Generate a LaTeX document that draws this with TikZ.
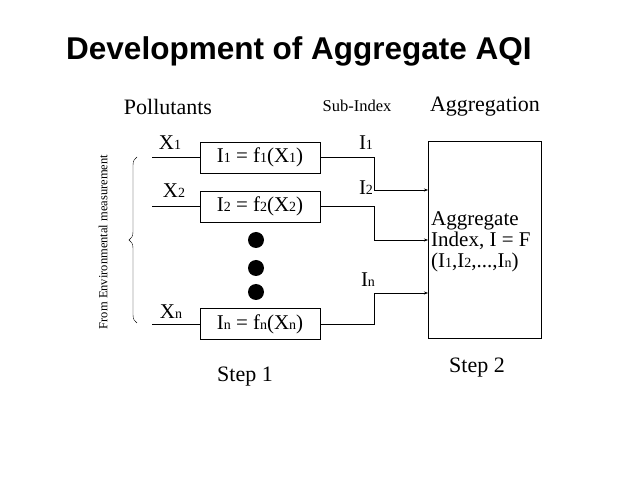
\documentclass[tikz,border=0pt]{standalone}
\usepackage{fontspec}
\setmainfont{Liberation Serif}
\newfontfamily\titlefont{Liberation Sans}
\usetikzlibrary{decorations.pathreplacing,arrows.meta}
\newcommand{\sbx}[1]{{\fontsize{14}{14}\selectfont #1}}
\begin{document}
\begin{tikzpicture}[x=1pt,y=-1pt,
  fbox/.style={draw,minimum width=120pt,minimum height=31pt,inner sep=1pt,font=\fontsize{21}{21}\selectfont},
  lbl/.style={font=\fontsize{21}{21}\selectfont},
  conn/.style={draw,line width=0.5pt},
  arr/.style={conn,-{Stealth[length=4pt,width=3pt]}}]
\useasboundingbox (0,0) rectangle (638,478);
\node[font=\titlefont\bfseries\fontsize{31.5}{31.5}\selectfont] (title) at (299,51) {Development of Aggregate AQI};
\node[font=\fontsize{22}{22}\selectfont] (pol) at (168,107) {Pollutants};
\node[font=\fontsize{16.5}{16.5}\selectfont] (sub) at (357,106) {Sub-Index};
\node[font=\fontsize{22}{22}\selectfont] (agg) at (485,107) {Aggregation};
\node[fbox] (b1) at (260,157.5) {I\sbx{1} = f\sbx{1}(X\sbx{1})};
\node[fbox] (b2) at (260,206.5) {I\sbx{2} = f\sbx{2}(X\sbx{2})};
\node[fbox] (bn) at (260,324) {I\sbx{n} = f\sbx{n}(X\sbx{n})};
\node[draw,minimum width=113pt,minimum height=197pt] (big) at (484.5,239.5) {};
\node[lbl,align=left,anchor=west,inner sep=0pt] (aggt) at (431,242) {Aggregate\\Index, I = F\\(I\sbx{1},I\sbx{2},...,I\sbx{n})};
\coordinate (s1) at (152,157.5);
\coordinate (s2) at (152,206.5);
\coordinate (sn) at (152,324);
\draw[conn] (s1) -- (b1.west);
\draw[conn] (s2) -- (b2.west);
\draw[conn] (sn) -- (bn.west);
\node[lbl] (x1) at (170,143) {X\sbx{1}};
\node[lbl] (x2) at (174,191) {X\sbx{2}};
\node[lbl] (xn) at (171,312) {X\sbx{n}};
\coordinate (t1) at (428,190);
\coordinate (t2) at (428,240);
\coordinate (tn) at (428,293);
\draw[arr] (b1.east) -| (374,190) -- (t1);
\draw[arr] (b2.east) -| (374,240) -- (t2);
\draw[arr] (bn.east) -| (374,293) -- (tn);
\node[lbl] (i1) at (366,143) {I\sbx{1}};
\node[lbl] (i2) at (366,188) {I\sbx{2}};
\node[lbl] (in) at (368,280) {I\sbx{n}};
\foreach \y/\n in {240/d1,268/d2,292/d3} \node[circle,fill=black,inner sep=0pt,minimum size=16pt] (\n) at (256,\y) {};
\coordinate (br1) at (137,157);
\coordinate (br2) at (137,323);
\draw[decorate,decoration={brace,amplitude=8pt}] (br2) -- (br1);
\node[rotate=90,font=\fontsize{12.5}{12.5}\selectfont] (from) at (103,242) {From Environmental measurement};
\node[font=\fontsize{22}{22}\selectfont] (st1) at (245,377) {Step 1};
\node[font=\fontsize{22}{22}\selectfont] (st2) at (477,368) {Step 2};
\end{tikzpicture}
\end{document}
